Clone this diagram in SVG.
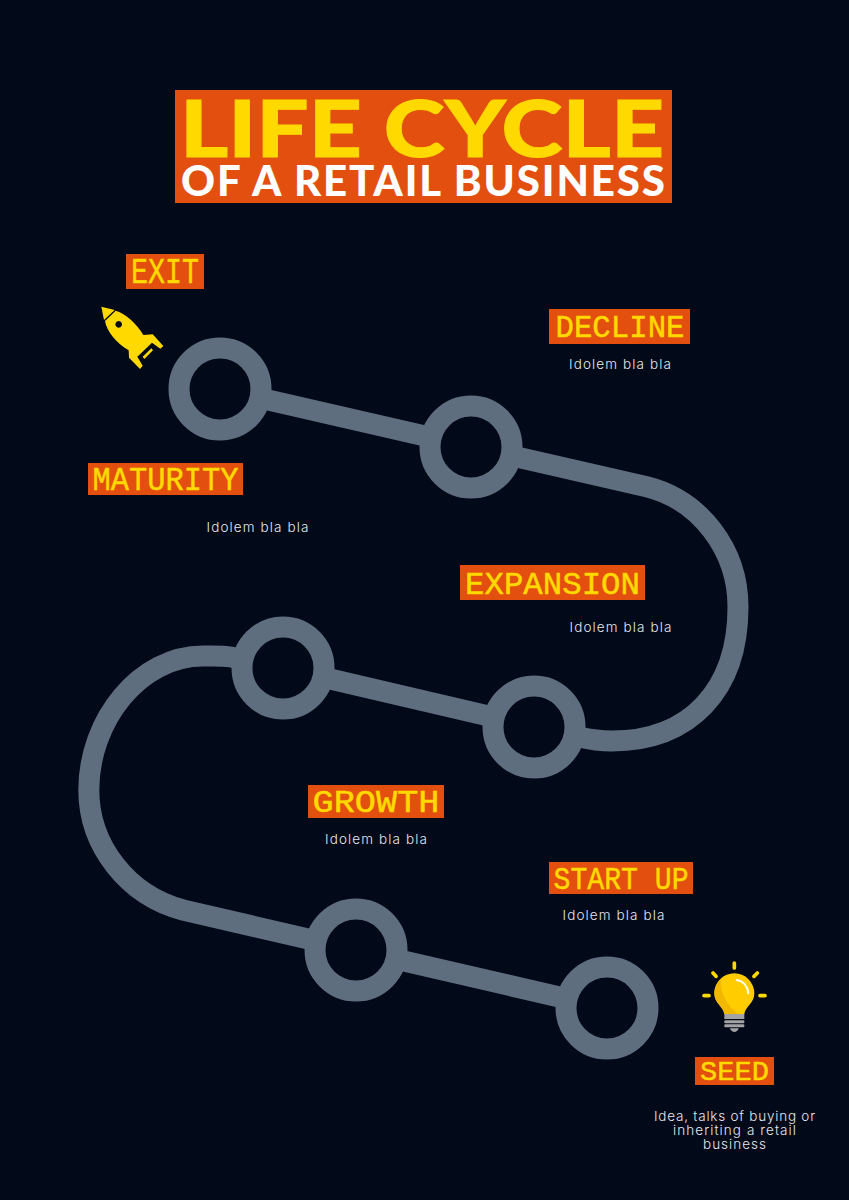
<svg xmlns="http://www.w3.org/2000/svg" width="849" height="1200" viewBox="0 0 849 1200">
<style>
.bg{fill:#020919}
.ring{fill:#020919;stroke:#5F6E7E;stroke-width:21}
.track{fill:none;stroke:#5F6E7E;stroke-width:21}
.tag{fill:#E34F0F}
.lab{fill:#FFD900;stroke:#FFD900;stroke-width:.5;font-family:"Liberation Mono","DejaVu Sans Mono",monospace;text-transform:uppercase;text-anchor:middle}
.txt{fill:#E6E8EE;font-family:Inter,"Noto Sans","Liberation Sans",sans-serif;font-size:13.5px;font-weight:300;text-anchor:middle}
.head{font-family:Lato,"Liberation Sans",sans-serif;font-weight:900}
.ray{stroke:#FFD900;stroke-width:11;stroke-linecap:round;fill:none}
.base{fill:#A3A3A3}
</style>
<rect class="bg" width="849" height="1200"/>
<g id="title">
<rect class="tag" x="175" y="90" width="497" height="113"/>
<text class="head" x="180" y="157" font-size="78" fill="#FFD900" stroke="#FFD900" stroke-width="1" textLength="484" lengthAdjust="spacingAndGlyphs">LIFE CYCLE</text>
<text class="head" x="181" y="196" font-size="42" fill="#FFFFFF" textLength="484">OF A RETAIL BUSINESS</text>
</g>
<g id="connectors">
<path class="track" d="M220 389L646.700 486.700C700 500 738 550 738 607C738 690 690 741 611.700 741C600 741 590 739.500 579 737L283 668L231 657C222 655.500 212 656 203 656C140 656 88.800 720 88.800 790C88.800 845 127 895 183 910L607 1008"/>
</g>
<g id="node-exit">
<circle class="ring" cx="220" cy="389" r="41"/>
<rect class="tag" x="126" y="254" width="78" height="35"/>
<text class="lab" x="165" y="283" font-size="36" textLength="68" lengthAdjust="spacingAndGlyphs">eXIT</text>
<g transform="translate(80 245) scale(.33333)" fill="#FFD900">
<path d="M64 185L104 195L72 225Z"/>
<path fill-rule="evenodd" d="M107 197C135 205 170 235 190 270L218 268L250 303L241 311L216 293L172 335L188 362L180 372L147 338L146 316C110 295 80 260 75 228ZM116 228a10 10 0 1 0 .1 0Z"/>
<path d="M188 335L214 310L219 316L193 342Z"/>
</g>
</g>
<g id="node-decline">
<circle class="ring" cx="471" cy="447" r="41"/>
<rect class="tag" x="549" y="309" width="141" height="35"/>
<text class="lab" x="620" y="337" font-size="32" textLength="129" lengthAdjust="spacingAndGlyphs">Decline</text>
<text class="txt" x="620" y="369" textLength="102">Idolem bla bla</text>
</g>
<g id="node-maturity">
<rect class="tag" x="88" y="463" width="155" height="32"/>
<text class="lab" x="165.500" y="490" font-size="33" textLength="146" lengthAdjust="spacingAndGlyphs">MATURITY</text>
<text class="txt" x="257.500" y="532" textLength="102">Idolem bla bla</text>
</g>
<g id="node-expansion">
<circle class="ring" cx="534" cy="727" r="41"/>
<rect class="tag" x="460" y="565" width="185" height="35"/>
<text class="lab" x="552.500" y="594" font-size="32" textLength="175" lengthAdjust="spacingAndGlyphs">Expansion</text>
<text class="txt" x="620.500" y="632" textLength="102">Idolem bla bla</text>
</g>
<g id="node-growth">
<circle class="ring" cx="283" cy="668" r="41"/>
<rect class="tag" x="308" y="785" width="136" height="33"/>
<text class="lab" x="376" y="812" font-size="32" textLength="127" lengthAdjust="spacingAndGlyphs">Growth</text>
<text class="txt" x="376" y="844" textLength="102">Idolem bla bla</text>
</g>
<g id="node-startup">
<circle class="ring" cx="356" cy="950" r="41"/>
<rect class="tag" x="549" y="862" width="144" height="32"/>
<text class="lab" x="621" y="889" font-size="32" textLength="135" lengthAdjust="spacingAndGlyphs">Start up</text>
<text class="txt" x="613.500" y="920" textLength="102">Idolem bla bla</text>
</g>
<g id="node-seed">
<circle class="ring" cx="607" cy="1008" r="41"/>
<rect class="tag" x="695" y="1057" width="79" height="28"/>
<text class="lab" x="734.500" y="1080" font-size="28" textLength="69" lengthAdjust="spacingAndGlyphs">SEED</text>
<text class="txt" x="734.500" y="1121" textLength="161">Idea, talks of buying or</text>
<text class="txt" x="734.500" y="1135" textLength="123">inheriting a retail</text>
<text class="txt" x="734.500" y="1149" textLength="63">business</text>
<g transform="translate(640 950) scale(.33333)">
<path class="ray" d="M283 39V54M219 69L228 79M352 69L342 79M192 137H207M360 137H375"/>
<path fill="#FFCC00" d="M253 192C250 170 223 160 223 130A60 60 0 0 1 343 130C343 160 316 170 313 192Z"/>
<path fill="#F2B800" d="M253 192C250 170 223 160 223 130C223 112 231 96 243 86C238 130 265 170 295 192Z"/>
<path d="M290 90C310 93 322 108 325 130" fill="none" stroke="#FFFFFF" stroke-width="6" stroke-linecap="round"/>
<rect class="base" x="253" y="192" width="60" height="15"/>
<rect class="base" x="253" y="211" width="60" height="9" rx="3"/>
<rect class="base" x="253" y="223" width="60" height="9" rx="3"/>
<path class="base" d="M270 235H296C294 243 288 246 283 246C278 246 272 243 270 235Z"/>
</g>
</g>
</svg>
